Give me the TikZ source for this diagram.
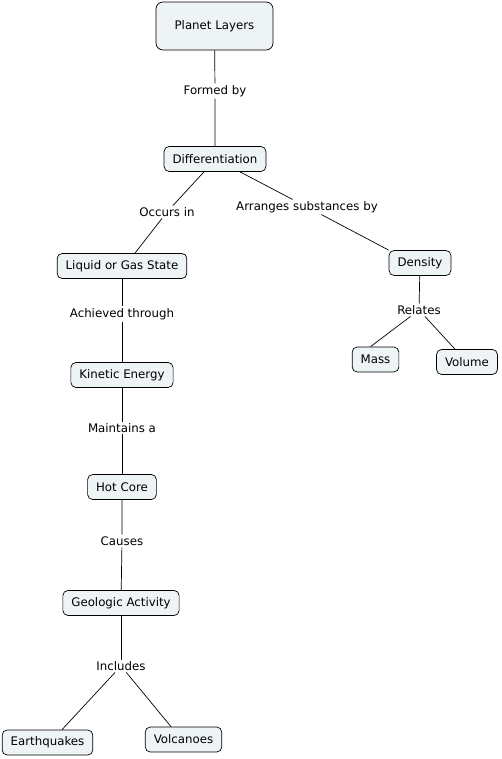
\documentclass[tikz,border=0pt]{standalone}
\usepackage{fontspec}
\setmainfont{DejaVu Sans}
\definecolor{conceptfill}{HTML}{EEF4F6}
\begin{document}
\begin{tikzpicture}[
  x=1pt,y=-1pt,
  concept/.style={draw,rounded corners=5pt,fill=conceptfill,font=\fontsize{11.8}{13}\selectfont,
    inner xsep=8.5pt,inner ysep=0pt,minimum height=25pt},
  linkword/.style={font=\fontsize{11.8}{13}\selectfont,inner sep=1.5pt,fill=white},
  every path/.style={line width=0.7pt}
]
\useasboundingbox (0,0) rectangle (502,759);
% concepts
\node[concept,minimum width=117pt,minimum height=48pt,rounded corners=7pt] (layers) at (214.5,26) {Planet Layers};
\node[concept] (diff) at (215,159) {Differentiation};
\node[concept] (state) at (122,266) {Liquid or Gas State};
\node[concept] (density) at (420,263) {Density};
\node[concept] (mass) at (375.5,359.5) {Mass};
\node[concept] (volume) at (467,362) {Volume};
\node[concept] (kinetic) at (122,375) {Kinetic Energy};
\node[concept] (core) at (122,487) {Hot Core};
\node[concept] (geo) at (121,603) {Geologic Activity};
\node[concept] (quakes) at (47.5,742.5) {Earthquakes};
\node[concept] (volc) at (183.5,739.5) {Volcanoes};
% linking words
\node[linkword] (formed) at (215,91) {Formed by};
\node[linkword] (occurs) at (167,212) {Occurs in};
\node[linkword] (arranges) at (307,207) {Arranges substances by};
\node[linkword] (relates) at (419,310) {Relates};
\node[linkword] (achieved) at (122,314) {Achieved through};
\node[linkword] (maintains) at (122,428) {Maintains a};
\node[linkword] (causes) at (122,541) {Causes};
\node[linkword] (includes) at (121,666) {Includes};
% connectors
\draw (layers) -- (formed) -- (diff);
\draw ([xshift=-11pt]diff.south) -- (occurs) -- ([xshift=13pt]state.north);
\draw ([xshift=25pt]diff.south) -- (arranges) -- (density.north west);
\draw (density) -- (relates);
\draw (relates) -- ([xshift=-5pt]mass.north);
\draw (relates) -- ([xshift=-12pt]volume.north);
\draw (state) -- (achieved) -- (kinetic);
\draw (kinetic) -- (maintains) -- (core);
\draw (core) -- (causes) -- (geo);
\draw (geo) -- (includes);
\draw (includes) -- ([xshift=14.5pt]quakes.north);
\draw (includes) -- ([xshift=-12.5pt]volc.north);
\end{tikzpicture}
\end{document}
